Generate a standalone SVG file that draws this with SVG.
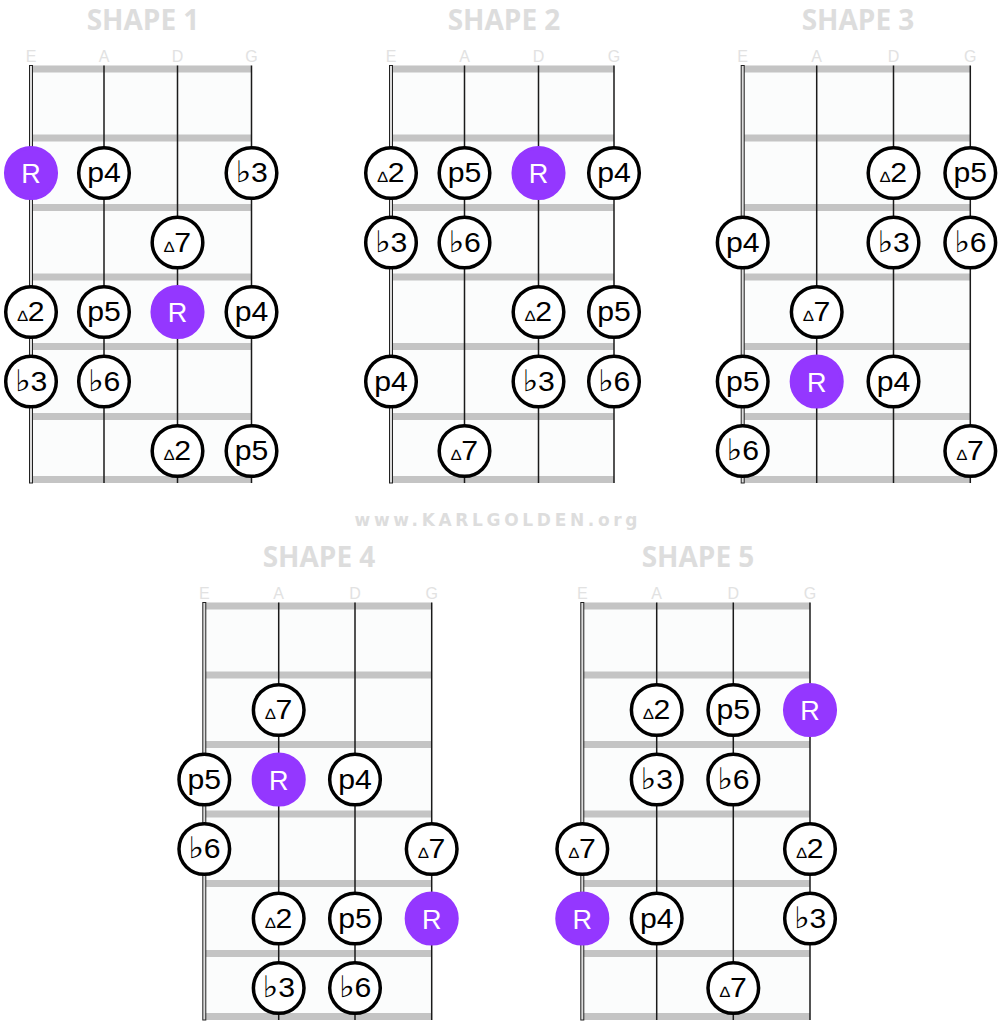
<svg xmlns="http://www.w3.org/2000/svg" width="1000" height="1028" viewBox="0 0 1000 1028">
<style>
.title{font-family:"Open Sans","Liberation Sans",sans-serif;font-weight:bold;font-size:28px;fill:#dddddd;text-anchor:middle}
.lbl{font-family:"Liberation Sans",sans-serif;font-size:16px;fill:#e2e2e2;text-anchor:middle}
.wm{font-family:"DejaVu Sans","Liberation Sans",sans-serif;font-weight:bold;font-size:17px;fill:#dddddd;text-anchor:middle}
.board{fill:#fbfcfc}
.band{fill:#c4c4c4}
.str{stroke:#1a1a1a;stroke-width:1.5}
.nut{fill:#dcdcdc;stroke:#222;stroke-width:1}
.n circle{fill:#fff;stroke:#000;stroke-width:3.5}
.n.r circle{fill:#9437ff;stroke:#9437ff}
.n text{font-family:"Liberation Sans",sans-serif;font-size:27px;fill:#000;text-anchor:middle;transform:scale(1.12,1)}
.n.r text{fill:#fff;transform:none}
.tri{font-size:15px}
.fl{font-family:"DejaVu Sans",sans-serif;font-size:30px}
</style>

<text class="wm" x="496" y="526" textLength="283" lengthAdjust="spacing">www.KARLGOLDEN.org</text>

<!-- SHAPE 1 -->
<g id="shape1">
<text class="title" x="143" y="30">SHAPE 1</text>
<text class="lbl" x="31" y="61.5">E</text><text class="lbl" x="104" y="61.5">A</text><text class="lbl" x="177.5" y="61.5">D</text><text class="lbl" x="251.5" y="61.5">G</text>
<rect class="board" x="31" y="65.5" width="220.5" height="417.5"/>
<g id="shape1-frets">
<rect class="band" x="31" y="65.5" width="220.5" height="7"/>
<rect class="band" x="31" y="134.5" width="220.5" height="7"/>
<rect class="band" x="31" y="204" width="220.5" height="7"/>
<rect class="band" x="31" y="273.5" width="220.5" height="7"/>
<rect class="band" x="31" y="343" width="220.5" height="7"/>
<rect class="band" x="31" y="413" width="220.5" height="7"/>
<rect class="band" x="31" y="476" width="220.5" height="7"/>
</g>
<g id="shape1-strings">
<line class="str" x1="104" y1="65.5" x2="104" y2="483"/>
<line class="str" x1="177.5" y1="65.5" x2="177.5" y2="483"/>
<line class="str" x1="251.5" y1="65.5" x2="251.5" y2="483"/>
<rect class="nut" x="29.5" y="65.5" width="3" height="417.5"/>
</g>
<g id="s1-1E" class="n r" transform="translate(31,173)"><circle r="25.3"/><text y="10">R</text></g>
<g id="s1-1A" class="n" transform="translate(104,173)"><circle r="25.3"/><text y="9">p4</text></g>
<g id="s1-1G" class="n" transform="translate(251.5,173)"><circle r="25.3"/><text y="9"><tspan class="fl">♭</tspan>3</text></g>
<g id="s1-2D" class="n" transform="translate(177.5,242.5)"><circle r="25.3"/><text y="9"><tspan class="tri">∆</tspan>7</text></g>
<g id="s1-3E" class="n" transform="translate(31,312)"><circle r="25.3"/><text y="9"><tspan class="tri">∆</tspan>2</text></g>
<g id="s1-3A" class="n" transform="translate(104,312)"><circle r="25.3"/><text y="9">p5</text></g>
<g id="s1-3D" class="n r" transform="translate(177.5,312)"><circle r="25.3"/><text y="10">R</text></g>
<g id="s1-3G" class="n" transform="translate(251.5,312)"><circle r="25.3"/><text y="9">p4</text></g>
<g id="s1-4E" class="n" transform="translate(31,381.5)"><circle r="25.3"/><text y="9"><tspan class="fl">♭</tspan>3</text></g>
<g id="s1-4A" class="n" transform="translate(104,381.5)"><circle r="25.3"/><text y="9"><tspan class="fl">♭</tspan>6</text></g>
<g id="s1-5D" class="n" transform="translate(177.5,451)"><circle r="25.3"/><text y="9"><tspan class="tri">∆</tspan>2</text></g>
<g id="s1-5G" class="n" transform="translate(251.5,451)"><circle r="25.3"/><text y="9">p5</text></g>
</g>

<!-- SHAPE 2 -->
<g id="shape2">
<text class="title" x="504" y="30">SHAPE 2</text>
<text class="lbl" x="391" y="61.5">E</text><text class="lbl" x="464.5" y="61.5">A</text><text class="lbl" x="538.5" y="61.5">D</text><text class="lbl" x="614" y="61.5">G</text>
<rect class="board" x="391" y="65.5" width="223" height="417.5"/>
<g id="shape2-frets">
<rect class="band" x="391" y="65.5" width="223" height="7"/>
<rect class="band" x="391" y="134.5" width="223" height="7"/>
<rect class="band" x="391" y="204" width="223" height="7"/>
<rect class="band" x="391" y="273.5" width="223" height="7"/>
<rect class="band" x="391" y="343" width="223" height="7"/>
<rect class="band" x="391" y="413" width="223" height="7"/>
<rect class="band" x="391" y="476" width="223" height="7"/>
</g>
<g id="shape2-strings">
<line class="str" x1="464.5" y1="65.5" x2="464.5" y2="483"/>
<line class="str" x1="538.5" y1="65.5" x2="538.5" y2="483"/>
<line class="str" x1="614" y1="65.5" x2="614" y2="483"/>
<rect class="nut" x="389.5" y="65.5" width="3" height="417.5"/>
</g>
<g id="s2-1E" class="n" transform="translate(391,173)"><circle r="25.3"/><text y="9"><tspan class="tri">∆</tspan>2</text></g>
<g id="s2-1A" class="n" transform="translate(464.5,173)"><circle r="25.3"/><text y="9">p5</text></g>
<g id="s2-1D" class="n r" transform="translate(538.5,173)"><circle r="25.3"/><text y="10">R</text></g>
<g id="s2-1G" class="n" transform="translate(614,173)"><circle r="25.3"/><text y="9">p4</text></g>
<g id="s2-2E" class="n" transform="translate(391,242.5)"><circle r="25.3"/><text y="9"><tspan class="fl">♭</tspan>3</text></g>
<g id="s2-2A" class="n" transform="translate(464.5,242.5)"><circle r="25.3"/><text y="9"><tspan class="fl">♭</tspan>6</text></g>
<g id="s2-3D" class="n" transform="translate(538.5,312)"><circle r="25.3"/><text y="9"><tspan class="tri">∆</tspan>2</text></g>
<g id="s2-3G" class="n" transform="translate(614,312)"><circle r="25.3"/><text y="9">p5</text></g>
<g id="s2-4E" class="n" transform="translate(391,381.5)"><circle r="25.3"/><text y="9">p4</text></g>
<g id="s2-4D" class="n" transform="translate(538.5,381.5)"><circle r="25.3"/><text y="9"><tspan class="fl">♭</tspan>3</text></g>
<g id="s2-4G" class="n" transform="translate(614,381.5)"><circle r="25.3"/><text y="9"><tspan class="fl">♭</tspan>6</text></g>
<g id="s2-5A" class="n" transform="translate(464.5,451)"><circle r="25.3"/><text y="9"><tspan class="tri">∆</tspan>7</text></g>
</g>

<!-- SHAPE 3 -->
<g id="shape3">
<text class="title" x="858" y="30">SHAPE 3</text>
<text class="lbl" x="742.7" y="61.5">E</text><text class="lbl" x="816.7" y="61.5">A</text><text class="lbl" x="893.5" y="61.5">D</text><text class="lbl" x="970.3" y="61.5">G</text>
<rect class="board" x="742.7" y="65.5" width="227.6" height="417.5"/>
<g id="shape3-frets">
<rect class="band" x="742.7" y="65.5" width="227.6" height="7"/>
<rect class="band" x="742.7" y="134.5" width="227.6" height="7"/>
<rect class="band" x="742.7" y="204" width="227.6" height="7"/>
<rect class="band" x="742.7" y="273.5" width="227.6" height="7"/>
<rect class="band" x="742.7" y="343" width="227.6" height="7"/>
<rect class="band" x="742.7" y="413" width="227.6" height="7"/>
<rect class="band" x="742.7" y="476" width="227.6" height="7"/>
</g>
<g id="shape3-strings">
<line class="str" x1="816.7" y1="65.5" x2="816.7" y2="483"/>
<line class="str" x1="893.5" y1="65.5" x2="893.5" y2="483"/>
<line class="str" x1="970.3" y1="65.5" x2="970.3" y2="483"/>
<rect class="nut" x="741.2" y="65.5" width="3" height="417.5"/>
</g>
<g id="s3-1D" class="n" transform="translate(893.5,173)"><circle r="25.3"/><text y="9"><tspan class="tri">∆</tspan>2</text></g>
<g id="s3-1G" class="n" transform="translate(970.3,173)"><circle r="25.3"/><text y="9">p5</text></g>
<g id="s3-2E" class="n" transform="translate(742.7,242.5)"><circle r="25.3"/><text y="9">p4</text></g>
<g id="s3-2D" class="n" transform="translate(893.5,242.5)"><circle r="25.3"/><text y="9"><tspan class="fl">♭</tspan>3</text></g>
<g id="s3-2G" class="n" transform="translate(970.3,242.5)"><circle r="25.3"/><text y="9"><tspan class="fl">♭</tspan>6</text></g>
<g id="s3-3A" class="n" transform="translate(816.7,312)"><circle r="25.3"/><text y="9"><tspan class="tri">∆</tspan>7</text></g>
<g id="s3-4E" class="n" transform="translate(742.7,381.5)"><circle r="25.3"/><text y="9">p5</text></g>
<g id="s3-4A" class="n r" transform="translate(816.7,381.5)"><circle r="25.3"/><text y="10">R</text></g>
<g id="s3-4D" class="n" transform="translate(893.5,381.5)"><circle r="25.3"/><text y="9">p4</text></g>
<g id="s3-5E" class="n" transform="translate(742.7,451)"><circle r="25.3"/><text y="9"><tspan class="fl">♭</tspan>6</text></g>
<g id="s3-5G" class="n" transform="translate(970.3,451)"><circle r="25.3"/><text y="9"><tspan class="tri">∆</tspan>7</text></g>
</g>

<!-- SHAPE 4 -->
<g id="shape4" transform="translate(0,537)">
<text class="title" x="319" y="30">SHAPE 4</text>
<text class="lbl" x="204.3" y="61.5">E</text><text class="lbl" x="278.7" y="61.5">A</text><text class="lbl" x="355" y="61.5">D</text><text class="lbl" x="431.7" y="61.5">G</text>
<rect class="board" x="204.3" y="65.5" width="227.4" height="417.5"/>
<g id="shape4-frets">
<rect class="band" x="204.3" y="65.5" width="227.4" height="7"/>
<rect class="band" x="204.3" y="134.5" width="227.4" height="7"/>
<rect class="band" x="204.3" y="204" width="227.4" height="7"/>
<rect class="band" x="204.3" y="273.5" width="227.4" height="7"/>
<rect class="band" x="204.3" y="343" width="227.4" height="7"/>
<rect class="band" x="204.3" y="413" width="227.4" height="7"/>
<rect class="band" x="204.3" y="476" width="227.4" height="7"/>
</g>
<g id="shape4-strings">
<line class="str" x1="278.7" y1="65.5" x2="278.7" y2="483"/>
<line class="str" x1="355" y1="65.5" x2="355" y2="483"/>
<line class="str" x1="431.7" y1="65.5" x2="431.7" y2="483"/>
<rect class="nut" x="202.8" y="65.5" width="3" height="417.5"/>
</g>
<g id="s4-1A" class="n" transform="translate(278.7,173)"><circle r="25.3"/><text y="9"><tspan class="tri">∆</tspan>7</text></g>
<g id="s4-2E" class="n" transform="translate(204.3,242.5)"><circle r="25.3"/><text y="9">p5</text></g>
<g id="s4-2A" class="n r" transform="translate(278.7,242.5)"><circle r="25.3"/><text y="10">R</text></g>
<g id="s4-2D" class="n" transform="translate(355,242.5)"><circle r="25.3"/><text y="9">p4</text></g>
<g id="s4-3E" class="n" transform="translate(204.3,312)"><circle r="25.3"/><text y="9"><tspan class="fl">♭</tspan>6</text></g>
<g id="s4-3G" class="n" transform="translate(431.7,312)"><circle r="25.3"/><text y="9"><tspan class="tri">∆</tspan>7</text></g>
<g id="s4-4A" class="n" transform="translate(278.7,381.5)"><circle r="25.3"/><text y="9"><tspan class="tri">∆</tspan>2</text></g>
<g id="s4-4D" class="n" transform="translate(355,381.5)"><circle r="25.3"/><text y="9">p5</text></g>
<g id="s4-4G" class="n r" transform="translate(431.7,381.5)"><circle r="25.3"/><text y="10">R</text></g>
<g id="s4-5A" class="n" transform="translate(278.7,451)"><circle r="25.3"/><text y="9"><tspan class="fl">♭</tspan>3</text></g>
<g id="s4-5D" class="n" transform="translate(355,451)"><circle r="25.3"/><text y="9"><tspan class="fl">♭</tspan>6</text></g>
</g>

<!-- SHAPE 5 -->
<g id="shape5" transform="translate(0,537)">
<text class="title" x="698" y="30">SHAPE 5</text>
<text class="lbl" x="582.3" y="61.5">E</text><text class="lbl" x="656.7" y="61.5">A</text><text class="lbl" x="733.3" y="61.5">D</text><text class="lbl" x="810" y="61.5">G</text>
<rect class="board" x="582.3" y="65.5" width="227.7" height="417.5"/>
<g id="shape5-frets">
<rect class="band" x="582.3" y="65.5" width="227.7" height="7"/>
<rect class="band" x="582.3" y="134.5" width="227.7" height="7"/>
<rect class="band" x="582.3" y="204" width="227.7" height="7"/>
<rect class="band" x="582.3" y="273.5" width="227.7" height="7"/>
<rect class="band" x="582.3" y="343" width="227.7" height="7"/>
<rect class="band" x="582.3" y="413" width="227.7" height="7"/>
<rect class="band" x="582.3" y="476" width="227.7" height="7"/>
</g>
<g id="shape5-strings">
<line class="str" x1="656.7" y1="65.5" x2="656.7" y2="483"/>
<line class="str" x1="733.3" y1="65.5" x2="733.3" y2="483"/>
<line class="str" x1="810" y1="65.5" x2="810" y2="483"/>
<rect class="nut" x="580.8" y="65.5" width="3" height="417.5"/>
</g>
<g id="s5-1A" class="n" transform="translate(656.7,173)"><circle r="25.3"/><text y="9"><tspan class="tri">∆</tspan>2</text></g>
<g id="s5-1D" class="n" transform="translate(733.3,173)"><circle r="25.3"/><text y="9">p5</text></g>
<g id="s5-1G" class="n r" transform="translate(810,173)"><circle r="25.3"/><text y="10">R</text></g>
<g id="s5-2A" class="n" transform="translate(656.7,242.5)"><circle r="25.3"/><text y="9"><tspan class="fl">♭</tspan>3</text></g>
<g id="s5-2D" class="n" transform="translate(733.3,242.5)"><circle r="25.3"/><text y="9"><tspan class="fl">♭</tspan>6</text></g>
<g id="s5-3E" class="n" transform="translate(582.3,312)"><circle r="25.3"/><text y="9"><tspan class="tri">∆</tspan>7</text></g>
<g id="s5-3G" class="n" transform="translate(810,312)"><circle r="25.3"/><text y="9"><tspan class="tri">∆</tspan>2</text></g>
<g id="s5-4E" class="n r" transform="translate(582.3,381.5)"><circle r="25.3"/><text y="10">R</text></g>
<g id="s5-4A" class="n" transform="translate(656.7,381.5)"><circle r="25.3"/><text y="9">p4</text></g>
<g id="s5-4G" class="n" transform="translate(810,381.5)"><circle r="25.3"/><text y="9"><tspan class="fl">♭</tspan>3</text></g>
<g id="s5-5D" class="n" transform="translate(733.3,451)"><circle r="25.3"/><text y="9"><tspan class="tri">∆</tspan>7</text></g>
</g>
</svg>
